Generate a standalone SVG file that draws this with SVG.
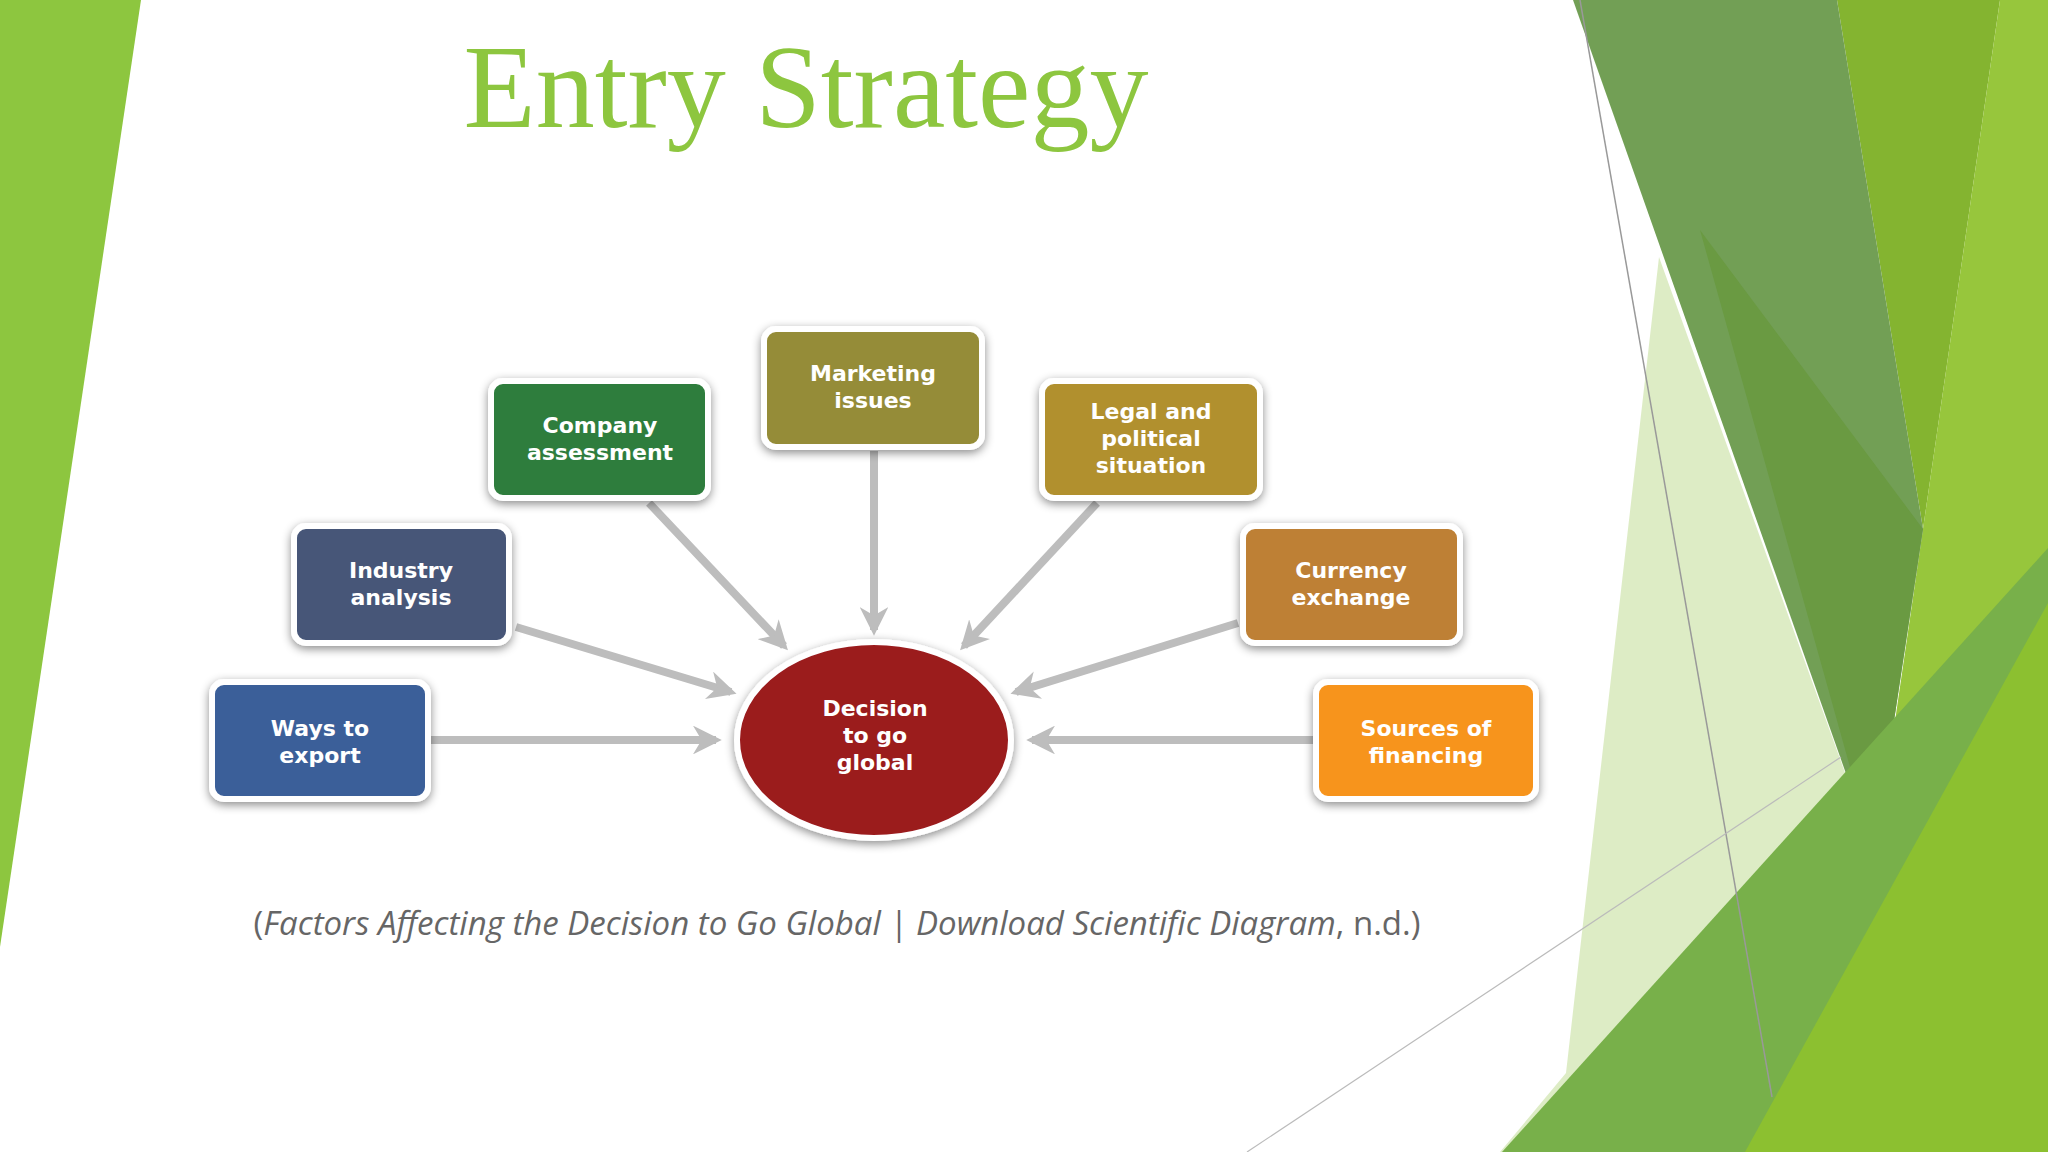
<svg xmlns="http://www.w3.org/2000/svg" width="2048" height="1152" viewBox="0 0 2048 1152">
<defs>
<style>
.nt{font-family:"DejaVu Sans",Verdana,sans-serif;font-weight:bold;font-size:22px;fill:#fff;text-anchor:middle}
.box{stroke:#fff;stroke-width:6;filter:url(#sh)}
.ar{stroke:#bdbdbd;stroke-width:8;fill:none;marker-end:url(#ah)}
</style>
<filter id="sh" x="-20%" y="-20%" width="140%" height="140%"><feDropShadow dx="0" dy="3" stdDeviation="5" flood-color="#000" flood-opacity="0.45"/></filter>
<marker id="ah" viewBox="0 0 10 10" refX="8" refY="5" markerWidth="3.6" markerHeight="3.6" orient="auto" markerUnits="strokeWidth"><path d="M0,0 L10,5 L0,10 L3,5 Z" fill="#bdbdbd"/></marker>
</defs>
<rect width="2048" height="1152" fill="#fff"/>
<!-- decoration -->
<polygon points="0,0 141,0 0,947" fill="#8dc63f"/>
<polygon points="1659,257 1874,853 1900,1152 1500,1152 1566,1073" fill="#d9eabf" opacity="0.9"/>
<polygon points="1837,0 2000,0 1923,529" fill="#84b430"/>
<polygon points="2000,0 2048,0 2048,1152 1830,1152 1864,934" fill="#97c63c"/>
<polygon points="1573,0 1837,0 1923,529 1874,853" fill="#729f55"/>
<polygon points="1700,230 1923,529 1874,853" fill="#6a9a42"/>
<polygon points="1960,700 1962,760 1874,853 1860,870" fill="#98c65a" opacity="0.6"/>
<polygon points="1502,1152 2048,548 2048,1152" fill="#78b04a"/>
<polygon points="1745,1152 2048,603 2048,1152" fill="#8cc030"/>
<line x1="1580" y1="0" x2="1772" y2="1097" stroke="#999" stroke-width="1.5"/>
<line x1="1247" y1="1152" x2="1841" y2="757" stroke="#bbb" stroke-width="1.2"/>
<!-- title -->
<text x="806" y="127" text-anchor="middle" font-family="Liberation Serif,serif" font-size="118" fill="#8dc63f">Entry Strategy</text>
<!-- connectors -->
<g id="connectors">
<line class="ar" x1="431" y1="740" x2="716" y2="740"/>
<line class="ar" x1="516" y1="627" x2="731" y2="692"/>
<line class="ar" x1="649" y1="503" x2="784" y2="646"/>
<line class="ar" x1="874" y1="451" x2="874" y2="630"/>
<line class="ar" x1="1097" y1="503" x2="964" y2="646"/>
<line class="ar" x1="1238" y1="623" x2="1016" y2="692"/>
<line class="ar" x1="1313" y1="740" x2="1032" y2="740"/>
</g>
<g id="n-ways"><rect class="box" x="212" y="682" width="216" height="117" rx="12" fill="#3a5e99"/><text class="nt" x="320" y="736">Ways to</text><text class="nt" x="320" y="763">export</text></g>
<g id="n-industry"><rect class="box" x="294" y="526" width="215" height="117" rx="12" fill="#465678"/><text class="nt" x="401" y="578">Industry</text><text class="nt" x="401" y="605">analysis</text></g>
<g id="n-company"><rect class="box" x="491" y="381" width="217" height="117" rx="12" fill="#2d7d3c"/><text class="nt" x="600" y="433">Company</text><text class="nt" x="600" y="460">assessment</text></g>
<g id="n-marketing"><rect class="box" x="764" y="329" width="218" height="118" rx="12" fill="#958c38"/><text class="nt" x="873" y="381">Marketing</text><text class="nt" x="873" y="408">issues</text></g>
<g id="n-legal"><rect class="box" x="1042" y="381" width="218" height="117" rx="12" fill="#b1902f"/><text class="nt" x="1151" y="419">Legal and</text><text class="nt" x="1151" y="446">political</text><text class="nt" x="1151" y="473">situation</text></g>
<g id="n-currency"><rect class="box" x="1243" y="526" width="217" height="117" rx="12" fill="#be8034"/><text class="nt" x="1351" y="578">Currency</text><text class="nt" x="1351" y="605">exchange</text></g>
<g id="n-sources"><rect class="box" x="1316" y="682" width="220" height="117" rx="12" fill="#f7941d"/><text class="nt" x="1426" y="736">Sources of</text><text class="nt" x="1426" y="763">financing</text></g>
<g id="n-decision"><ellipse class="box" cx="874" cy="740" rx="137" ry="98" fill="#9b1b1f"/><text class="nt" x="875" y="716">Decision</text><text class="nt" x="875" y="743">to go</text><text class="nt" x="875" y="770">global</text></g>
<text x="837" y="935" text-anchor="middle" font-family="Open Sans,sans-serif" font-size="33" fill="#666">(<tspan font-style="italic">Factors Affecting the Decision to Go Global | Download Scientific Diagram</tspan>, n.d.)</text>
</svg>
